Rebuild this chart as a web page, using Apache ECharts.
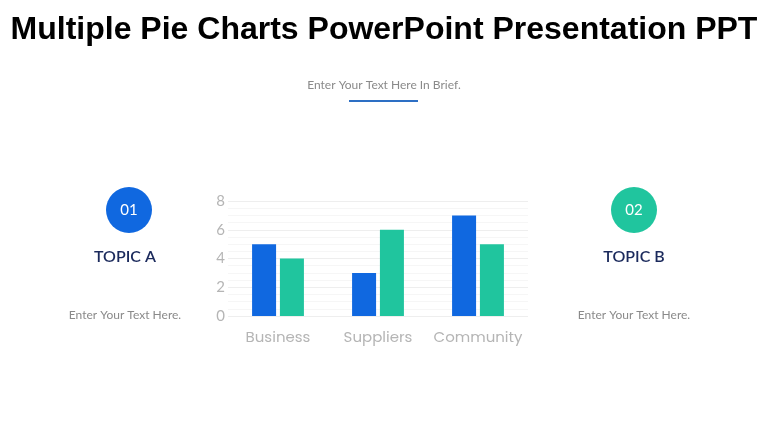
<!DOCTYPE html>
<html>
<head>
<meta charset="utf-8">
<script src="https://cdn.jsdelivr.net/npm/echarts@6/dist/echarts.min.js"></script>
<style>html,body{margin:0;padding:0;background:#fff}#c{width:768px;height:432px}</style>
</head>
<body>
<div id="c"></div>
<script>
var categories = ['Business', 'Suppliers', 'Community'];
var seriesA = [5, 3, 7];
var seriesB = [4, 6, 5];

var blue = '#1068e0';
var teal = '#20c59e';

var chart = echarts.init(document.getElementById('c'), null, { renderer: 'canvas' });

var option = {
  backgroundColor: '#fff',
  animation: false,
  grid: { left: 228, right: 240, top: 201, bottom: 116 },
  xAxis: {
    type: 'category',
    data: categories,
    axisLine: { show: false },
    axisTick: { show: false },
    axisLabel: { interval: 0, color: '#b5b5b5', fontFamily: 'Poppins, Lato, sans-serif', fontSize: 15, margin: 15 }
  },
  yAxis: {
    type: 'value',
    min: 0,
    max: 8,
    interval: 2,
    axisLine: { show: false },
    axisTick: { show: false },
    axisLabel: { color: '#b5b5b5', fontFamily: 'Lato, sans-serif', fontSize: 15, margin: 3 },
    splitLine: { lineStyle: { color: '#eeeeee' } },
    minorTick: { show: false, splitNumber: 4 },
    minorSplitLine: { show: true, lineStyle: { color: '#f6f6f6' } }
  },
  series: [
    { type: 'bar', data: seriesA, barWidth: 24, barGap: '16%', itemStyle: { color: blue } },
    { type: 'bar', data: seriesB, barWidth: 24, barGap: '16%', itemStyle: { color: teal } }
  ],
  graphic: [
    { type: 'text', left: 'center', top: 14, style: { text: 'Multiple Pie Charts PowerPoint Presentation PPT', font: 'bold 32px Arial, "Liberation Sans", sans-serif', fill: '#000' } },
    { type: 'text', left: 'center', top: 79, style: { text: 'Enter Your Text Here In Brief.', font: '12px Lato, sans-serif', fill: '#8a8a8a' } },
    { type: 'rect', shape: { x: 349, y: 100, width: 69, height: 2 }, style: { fill: '#2d6fc4' } },
    { type: 'circle', shape: { cx: 129, cy: 210, r: 23 }, style: { fill: blue } },
    { type: 'text', x: 129, y: 210, style: { text: '01', font: '15px Lato, sans-serif', fill: '#fff', align: 'center', verticalAlign: 'middle' } },
    { type: 'text', x: 125, y: 257, style: { text: 'TOPIC A', font: '600 16px Lato, sans-serif', fill: '#1b2a5c', align: 'center', verticalAlign: 'middle' } },
    { type: 'text', x: 125, y: 315, style: { text: 'Enter Your Text Here.', font: '12px Lato, sans-serif', fill: '#8a8a8a', align: 'center', verticalAlign: 'middle' } },
    { type: 'circle', shape: { cx: 634, cy: 210, r: 23 }, style: { fill: teal } },
    { type: 'text', x: 634, y: 210, style: { text: '02', font: '15px Lato, sans-serif', fill: '#fff', align: 'center', verticalAlign: 'middle' } },
    { type: 'text', x: 634, y: 257, style: { text: 'TOPIC B', font: '600 16px Lato, sans-serif', fill: '#1b2a5c', align: 'center', verticalAlign: 'middle' } },
    { type: 'text', x: 634, y: 315, style: { text: 'Enter Your Text Here.', font: '12px Lato, sans-serif', fill: '#8a8a8a', align: 'center', verticalAlign: 'middle' } }
  ]
};

chart.setOption(option);
window.addEventListener('resize', chart.resize);
</script>
</body>
</html>
